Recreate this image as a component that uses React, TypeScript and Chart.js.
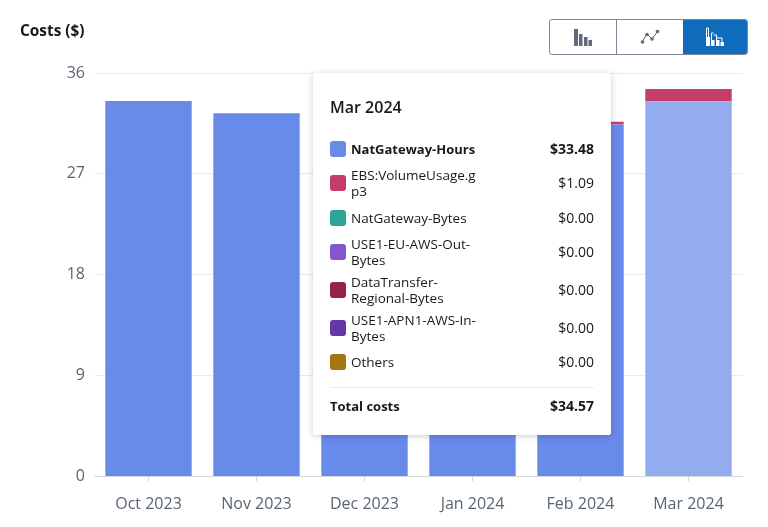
import React, { useEffect, useRef } from "react";
import { Chart, registerables } from "chart.js";

Chart.register(...registerables);

const months = ["Oct 2023", "Nov 2023", "Dec 2023", "Jan 2024", "Feb 2024", "Mar 2024"];
const natHours = [33.5, 32.4, 33.5, 33.3, 31.4, 33.48];
const ebsVolume = [0, 0, 0, 0, 0.24, 1.09];
const natBytes = [0, 0, 0, 0, 0, 0];
const euOut = [0, 0, 0, 0, 0, 0];
const regional = [0, 0, 0, 0, 0, 0];
const apnIn = [0, 0, 0, 0, 0, 0];
const others = [0, 0, 0, 0, 0, 0];
const yTicks = [0, 9, 18, 27, 36];

const seriesNames = [
  "NatGateway-Hours",
  "EBS:VolumeUsage.gp3",
  "NatGateway-Bytes",
  "USE1-EU-AWS-Out-Bytes",
  "DataTransfer-Regional-Bytes",
  "USE1-APN1-AWS-In-Bytes",
  "Others",
];
const seriesValues = [natHours, ebsVolume, natBytes, euOut, regional, apnIn, others];
const seriesColors = ["#688ae8", "#c33d69", "#2ea597", "#8456ce", "#962249", "#6237a7", "#a7770f"];
const highlightBlue = "#93abef";
const tooltipIndex = 5;
const rowCenters = [149, 183, 218, 252, 290, 328, 362];
const FONT = '"Open Sans", "Noto Sans", sans-serif';

function money(v: number) {
  return "$" + v.toFixed(2);
}

function App() {
  const ref = useRef<HTMLCanvasElement | null>(null);

  useEffect(() => {
    const chart = new Chart(ref.current as HTMLCanvasElement, {
      type: "bar",
      data: {
        labels: months,
        datasets: seriesNames.map((name, i) => ({
          label: name,
          data: seriesValues[i],
          backgroundColor:
            i === 0
              ? months.map((_, m) => (m === tooltipIndex ? highlightBlue : seriesColors[0]))
              : seriesColors[i],
          borderWidth: 0,
          barPercentage: 0.8,
          categoryPercentage: 1,
        })),
      },
      options: {
        animation: false,
        responsive: false,
        devicePixelRatio: 1,
        layout: { padding: { top: 73, right: 25.5, left: 0, bottom: 0 } },
        plugins: { legend: { display: false }, tooltip: { enabled: false } },
        scales: {
          x: {
            stacked: true,
            grid: { offset: false, drawOnChartArea: false, drawTicks: true, tickLength: 5, color: "#d5dbdb" },
            border: { color: "#d5dbdb" },
            ticks: { color: "#596573", font: { family: FONT, size: 16 }, padding: 13, maxRotation: 0 },
            afterFit: (s: any) => {
              s.height = 50.5;
            },
          },
          y: {
            stacked: true,
            min: 0,
            max: 36,
            afterBuildTicks: (s: any) => {
              s.ticks = yTicks.map((value) => ({ value }));
            },
            grid: { color: "#e9ebed", drawTicks: false },
            border: { display: false },
            ticks: { color: "#596573", font: { family: FONT, size: 16 }, padding: 9.5 },
            afterFit: (s: any) => {
              s.width = 94.5;
            },
          },
        },
      },
    } as any);
    return () => chart.destroy();
  }, []);

  const abs = (style: React.CSSProperties): React.CSSProperties => ({ position: "absolute", ...style });
  const total = seriesValues.reduce((a, s) => a + s[tooltipIndex], 0);

  return (
    <div style={{ position: "fixed", left: 0, top: 0, width: 768, height: 527, background: "#fff", fontFamily: FONT, overflow: "hidden" }}>
      <canvas ref={ref} width={768} height={527} style={{ position: "absolute", left: 0, top: 0, width: 768, height: 527 }} />

      <div style={abs({ left: 20, top: 22, fontSize: 15.4, lineHeight: "18px", fontWeight: 700, color: "#16191f" })}>Costs ($)</div>

      <div style={abs({ left: 549, top: 19, width: 199, height: 36, boxSizing: "border-box", border: "1px solid #7d8998", borderRadius: 3, display: "flex", overflow: "hidden" })}>
        <div style={{ width: 66, borderRight: "1px solid #7d8998", display: "flex", alignItems: "center", justifyContent: "center" }}>
          <svg width="20" height="20" viewBox="0 0 20 20">
            <g fill="#5f6b7a">
              <rect x="1" y="2" width="4" height="17" />
              <rect x="6" y="7" width="3.5" height="12" />
              <rect x="11" y="10" width="3.5" height="9" />
              <rect x="15.5" y="13" width="3.5" height="6" />
            </g>
          </svg>
        </div>
        <div style={{ width: 66, display: "flex", alignItems: "center", justifyContent: "center" }}>
          <svg width="20" height="20" viewBox="0 0 20 20">
            <polyline points="2,15 7,7 12,12 18,4" fill="none" stroke="#5f6b7a" strokeWidth="1" />
            <g fill="#5f6b7a">
              <circle cx="2.5" cy="15" r="1.8" />
              <circle cx="7" cy="7.5" r="1.8" />
              <circle cx="12" cy="12" r="1.8" />
              <circle cx="17.5" cy="4.5" r="1.8" />
            </g>
          </svg>
        </div>
        <div style={{ flex: 1, background: "#0f6cbd", display: "flex", alignItems: "center", justifyContent: "center" }}>
          <svg width="20" height="20" viewBox="0 0 20 20">
            <g fill="#fff">
              <rect x="1" y="10" width="4" height="9" />
              <rect x="6" y="13" width="3.5" height="6" />
              <rect x="11" y="13" width="3.5" height="6" />
              <rect x="15.5" y="15" width="3.5" height="4" />
            </g>
            <path d="M1.5 10V1h2v9M6.5 13V6h2M8.5 8h3v5M12 11h5v4" fill="none" stroke="#fff" strokeWidth="1" />
          </svg>
        </div>
      </div>

      <div style={abs({ left: 313, top: 73, width: 298, height: 362, background: "#fff", borderRadius: 2, boxShadow: "0 1px 6px rgba(0,28,36,0.22)" })} />
      <div style={abs({ left: 330, top: 97, fontSize: 16, lineHeight: "20px", fontWeight: 600, color: "#16191f" })}>{months[tooltipIndex]}</div>

      {seriesNames.map((name, i) => (
        <React.Fragment key={name}>
          <div style={abs({ left: 330, top: rowCenters[i] - 8, width: 16, height: 16, borderRadius: 3, background: seriesColors[i] })} />
          <div
            style={abs({
              left: 351,
              top: rowCenters[i] - 20,
              height: 40,
              width: 130,
              display: "flex",
              alignItems: "center",
              fontSize: i === 0 ? 13 : 13.5,
              lineHeight: "16.5px",
              color: "#16191f",
              fontWeight: i === 0 ? 700 : 400,
              overflowWrap: "anywhere",
            })}
          >
            <span>{name}</span>
          </div>
          <div style={abs({ right: 174, top: rowCenters[i] - 9, fontSize: 14, lineHeight: "18px", color: "#16191f", fontWeight: i === 0 ? 700 : 400 })}>
            {money(seriesValues[i][tooltipIndex])}
          </div>
        </React.Fragment>
      ))}

      <div style={abs({ left: 330, top: 387, width: 264, height: 1, background: "#e9ebed" })} />
      <div style={abs({ left: 330, top: 397, fontSize: 13, lineHeight: "18px", fontWeight: 700, color: "#16191f" })}>Total costs</div>
      <div style={abs({ right: 174, top: 397, fontSize: 14, lineHeight: "18px", fontWeight: 700, color: "#16191f" })}>{money(total)}</div>
    </div>
  );
}

export default App;
